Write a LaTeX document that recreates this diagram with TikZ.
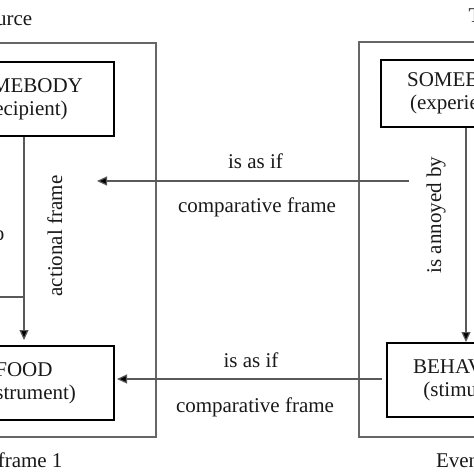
\documentclass[tikz,border=0pt]{standalone}
\usepackage{fontspec}
\setmainfont{Liberation Serif}
\usetikzlibrary{arrows.meta}
\begin{document}
\begin{tikzpicture}[x=1pt,y=-1pt,
  every node/.style={font=\fontsize{21}{23}\selectfont, text=black!90},
  outerframe/.style={draw=black!60, line width=1.1pt, inner sep=0pt},
  conbox/.style={draw=black, line width=2pt, align=center, inner sep=0pt},
  lbl/.style={inner sep=0pt, anchor=base},
  arr/.style={draw=black!65, line width=1.2pt, -{Triangle[length=10pt,width=9pt,fill=black]}},
  plainline/.style={draw=black!65, line width=1.2pt}]
\path[use as bounding box] (0,0) rectangle (474,474);
\clip (0,0) rectangle (474,474);
% outer frames
\node[outerframe, minimum width=264pt, minimum height=394pt] (frameL) at (24,240) {};
\node[outerframe, minimum width=214pt, minimum height=395pt] (frameR) at (466,239.5) {};
% frame titles
\node[lbl] (tSource) at (3,25) {Source};
\node[lbl] (tTarget) at (495,22) {Target};
\node[lbl] (tEv1) at (3,467) {Event frame 1};
\node[lbl] (tEv2) at (495.5,467) {Event frame 2};
% concept boxes
\node[conbox, minimum width=180pt, minimum height=74pt] (s1) at (24,99) {SOMEBODY\\(recipient)};
\node[conbox, minimum width=180pt, minimum height=74pt] (f1) at (24,383) {FOOD\\(instrument)};
\node[conbox, minimum width=170pt, minimum height=67pt] (s2) at (466,93.5) {SOMEBODY\\(experiencer)};
\node[conbox, minimum width=158pt, minimum height=74pt] (b2) at (466,380) {BEHAVIOR\\(stimulus)};
% vertical relations
\draw[arr, shorten >=5pt] (s1) -- (f1);
\draw[arr] (s2) -- (b2);
\node[lbl, rotate=90] (lAct) at (62,236) {actional frame};
\node[lbl, rotate=90] (lAnn) at (441,215) {is annoyed by};
\node[inner sep=0pt, anchor=base east] (lGive) at (4.5,240) {gives to};
\coordinate (hl) at (-40,297);
\draw[plainline] (hl) -- (hl -| s1);
% comparative relations
\coordinate (ta) at (409,181);
\coordinate (tb) at (97,181);
\draw[arr] (ta) -- (tb);
\coordinate (ba) at (382,379);
\coordinate (bb) at (117,379);
\draw[arr] (ba) -- (bb);
\node[lbl] (asif1) at (255.5,168) {is as if};
\node[lbl] (cf1) at (257,212) {comparative frame};
\node[lbl] (asif2) at (251,367) {is as if};
\node[lbl] (cf2) at (255,412) {comparative frame};
\end{tikzpicture}
\end{document}
